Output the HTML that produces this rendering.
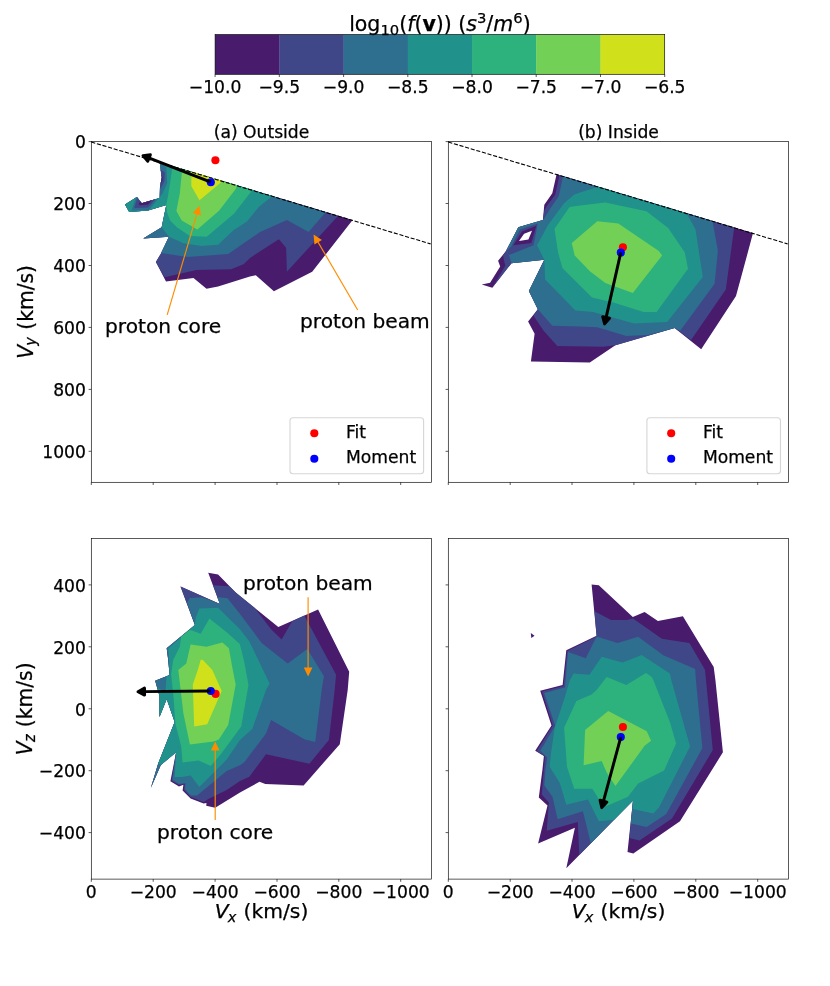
<!DOCTYPE html>
<html><head><meta charset="utf-8"><title>Velocity distribution figure</title>
<style>
html,body{margin:0;padding:0;background:#fff;}
svg{display:block;}
text{font-family:"DejaVu Sans","Liberation Sans",sans-serif;fill:#000;stroke:#000;stroke-width:0.25px;}
</style></head><body>
<svg width="830" height="986" viewBox="0 0 830 986">
<rect width="830" height="986" fill="#fff"/>
<g><polygon points="159.7,162.2 352.6,220.1 312.2,271.7 273.9,291.2 255.8,275.3 249.9,276.5 218.1,286.6 206.5,288.8 193.5,278.0 166.0,281.6 155.9,262.0 161.0,253.4 168.9,236.7 143.2,238.5 161.7,227.3 166.3,205.1 148.0,210.4 129.2,211.9 125.0,204.6 136.9,197.1 141.7,203.2 159.7,197.9 160.0,186.8 161.9,177.2" fill="#481b6d" />
<polygon points="159.7,162.2 338.2,215.8 286.9,271.7 286.1,247.8 278.9,239.2 250.0,257.9 243.6,264.2 231.1,269.3 196.4,270.0 164.6,277.2 155.9,262.0 161.0,253.4 168.9,236.7 143.2,238.5 161.7,227.3 166.3,205.1 148.0,210.4 129.2,211.9 125.0,204.6 136.9,197.1 141.7,203.2 159.7,197.9 160.0,186.8 161.9,177.2" fill="#3f4788" />
<polygon points="159.7,162.2 325.9,212.1 308.6,231.9 286.9,219.9 260.1,231.9 228.2,254.1 187.7,257.0 161.0,253.1 168.9,236.7 143.2,238.5 161.7,227.3 166.3,205.1 148.0,210.4 129.2,211.9 125.0,204.6 136.9,197.1 141.7,203.2 159.7,197.9 160.0,186.8 161.9,177.2" fill="#2e6e8e" />
<polygon points="159.7,162.2 272.4,196.0 258.8,207.1 247.0,221.6 233.5,230.2 218.1,244.7 201.7,246.1 183.4,243.3 168.9,236.7 161.7,227.3 166.3,205.1 148.0,210.4 129.2,211.9 125.0,204.6 136.9,197.1 141.7,203.2 159.7,197.9 160.0,186.8 161.9,177.2" fill="#21918c" />
<polygon points="172.5,166.1 252.3,190.0 250.8,191.9 234.2,213.6 206.7,236.7 189.9,236.0 176.9,227.3 170.1,220.5 167.2,212.8 166.3,205.1 167.7,197.4 170.1,183.0" fill="#2db27d" />
<polygon points="182.2,169.0 237.1,185.4 235.7,189.0 219.0,210.7 197.3,229.5 181.7,220.5 176.4,210.9 179.8,193.6" fill="#73d056" />
<polygon points="191.5,171.8 222.6,181.1 199.5,200.3 191.3,186.1" fill="#d0e11c" />
<polygon points="159.7,162.2 166.3,167.5 167.2,183.0 162.4,193.6 159.9,197.0 160.0,186.8 161.9,177.2" fill="#2e6e8e" />
<polygon points="160.3,169.5 164.8,172.3 164.5,181.0 160.6,189.0 160.0,186.8 161.9,177.2" fill="#3f4788" />
<polygon points="161.2,174.3 162.6,177.2 162.3,181.0 160.7,183.5 161.9,177.2" fill="#481b6d" />
<polygon points="135.9,197.7 131.5,210.6 148.9,209.9 158.6,198.3 141.7,203.2 136.9,197.1" fill="#2e6e8e" />
<polygon points="137.3,197.8 134.3,208.0 148.0,207.6 155.7,199.1 141.7,203.2" fill="#3f4788" />
<polygon points="138.6,204.3 140.2,201.5 141.7,203.2 151.8,200.3 148.0,204.6 140.7,205.3" fill="#481b6d" /></g>
<g><path d="M556.6,174.2 L753.0,233.1 L743.6,268.1 L736.0,296.0 L701.2,349.2 L674.6,328.0 L615.4,345.3 L589.8,362.4 L530.9,361.6 L534.6,333.7 L528.1,321.4 L537.8,309.2 L528.9,291.1 L544.3,259.8 L511.5,263.2 L492.3,287.8 L481.7,284.6 L490.1,282.8 L500.2,266.5 L498.1,260.8 L506.0,251.1 L518.3,227.2 L542.9,220.0 L544.3,204.8 L552.3,193.3 Z M519.0,241.0 L524.1,233.7 L532.0,230.8 L528.4,239.5 Z" fill="#481b6d" fill-rule="evenodd"/>
<polygon points="559.5,175.1 734.2,227.5 729.9,259.4 725.8,289.5 691.1,340.1 674.6,328.0 615.4,345.3 603.1,346.7 557.3,346.0 543.6,330.8 533.5,315.7 537.8,309.2 528.9,291.1 544.3,259.8 511.5,263.2 492.3,287.8 494.5,283.9 505.3,265.8 503.9,260.0 503.1,255.4 506.0,251.1 518.3,227.2 542.9,220.0 544.3,210.6 547.2,205.5 555.2,194.7" fill="#3f4788" />
<polygon points="563.1,176.2 712.5,221.0 717.9,250.7 714.6,283.7 680.2,330.7 674.6,328.0 648.0,335.0 626.3,335.9 597.3,327.2 580.0,326.5 552.3,325.8 537.8,309.2 528.9,291.1 544.3,259.8 511.5,263.2 509.0,255.0 506.0,251.1 518.3,227.2 542.9,220.0 543.6,219.3 550.8,207.7 558.8,196.1" fill="#2e6e8e" />
<polygon points="598.1,186.7 686.3,213.1 695.5,229.2 702.8,277.0 667.2,322.0 634.2,323.6 593.0,312.0 575.4,310.6 545.1,279.5 544.3,259.8 537.1,245.3 548.0,225.0 563.9,203.4 574.0,194.7 580.0,192.5" fill="#21918c" />
<polygon points="569.6,207.0 580.0,205.5 605.3,202.4 646.5,211.3 668.2,227.9 684.8,252.5 688.0,268.7 656.6,312.0 643.6,312.0 613.3,302.6 592.0,297.6 562.4,268.0 558.1,252.5 554.5,228.7" fill="#2db27d" />
<polygon points="597.3,221.2 618.3,223.6 658.8,251.1 662.1,255.4 632.8,293.0 605.3,283.1 589.9,271.3 574.7,255.4 571.8,243.1" fill="#73d056" />
<polygon points="511.1,246.7 519.8,229.4 537.8,223.6 533.5,245.3 509.0,255.0 506.0,251.1" fill="#3f4788" />
<polygon points="513.3,245.3 521.9,231.6 536.4,225.8 531.3,243.1" fill="#481b6d" />
<polygon points="519.0,241.0 524.1,233.7 532.0,230.8 528.4,239.5" fill="#fff" /></g>
<g><polygon points="208.2,572.7 218.1,574.5 235.7,592.5 240.0,596.0 254.5,607.8 278.3,627.0 318.1,609.6 349.2,671.8 347.7,690.0 339.8,744.2 303.6,785.4 265.3,784.0 259.5,781.8 240.0,792.6 215.2,807.7 206.2,805.8 206.5,803.0 203.6,803.6 190.6,798.6 182.6,790.6 183.4,784.8 179.0,786.6 170.4,781.2 176.1,752.3 160.8,765.0 150.8,788.1 158.2,763.6 174.7,722.0 166.7,698.9 159.5,717.0 159.5,696.0 155.2,680.8 169.6,675.1 168.2,659.8 166.7,648.2 194.9,625.1 180.5,586.5 219.9,604.1" fill="#481b6d" />
<polygon points="213.0,585.3 229.2,586.2 235.7,592.5 240.0,596.0 254.5,607.8 271.1,629.2 281.6,639.6 292.0,621.6 304.3,615.4 336.1,674.7 334.7,690.0 328.9,739.9 309.4,763.7 266.0,754.3 249.4,776.7 240.0,781.1 226.7,789.9 207.9,799.3 203.6,802.0 190.6,797.0 184.0,790.0 184.5,784.0 179.0,785.0 171.5,780.5 176.1,752.3 160.8,765.0 150.8,788.1 158.2,763.6 174.7,722.0 166.7,698.9 159.5,717.0 159.5,696.0 155.2,680.8 169.6,675.1 168.2,659.8 166.7,648.2 194.9,625.1 180.5,586.5 219.9,604.1" fill="#3f4788" />
<polygon points="217.2,596.9 227.5,598.3 240.0,614.0 261.7,642.9 287.7,663.6 307.2,649.1 323.9,676.1 321.7,690.0 315.2,742.0 304.3,739.2 271.1,720.1 266.0,733.4 244.3,762.3 240.0,765.2 226.7,771.1 206.5,787.7 197.0,795.5 190.6,795.5 185.0,789.0 185.5,783.0 179.0,784.0 172.5,780.0 176.1,752.3 160.8,765.0 150.8,788.1 158.2,763.6 174.7,722.0 166.7,698.9 159.5,717.0 159.5,696.0 155.2,680.8 169.6,675.1 168.2,659.8 166.7,648.2 194.9,625.1 187.0,602.6 189.9,597.9 202.2,597.3 219.9,604.1" fill="#2e6e8e" />
<polygon points="199.3,608.4 218.1,607.7 240.0,629.2 249.4,641.4 269.6,683.4 266.0,690.0 252.3,729.0 240.0,739.9 226.7,759.6 199.3,787.1 190.6,775.5 181.9,777.0 174.7,777.0 176.1,752.3 160.8,765.0 158.2,763.6 174.7,722.0 166.7,698.9 159.5,717.0 159.5,696.0 157.8,688.0 165.5,692.0 166.5,676.5 169.6,675.1 169.2,659.8 168.2,648.5 194.9,625.1 195.7,617.8" fill="#21918c" />
<polygon points="209.4,618.6 226.7,632.3 239.8,643.9 244.1,661.2 248.5,685.0 241.2,726.4 221.0,753.9 210.8,766.1 198.6,760.4 182.6,762.5 181.2,746.6 175.4,723.5 173.3,694.6 171.1,674.2 173.3,659.8 179.8,646.7 181.2,636.6 189.9,629.8 200.7,633.7" fill="#2db27d" />
<polygon points="190.6,644.6 206.5,646.7 222.4,642.4 228.9,648.2 232.5,668.4 235.7,684.5 228.2,724.9 218.8,739.4 213.7,741.6 189.9,744.5 183.4,713.4 178.3,670.0 186.3,663.4" fill="#73d056" />
<polygon points="200.7,659.8 202.9,660.0 212.3,670.0 221.7,691.0 207.2,724.2 194.2,726.4 192.8,684.5 197.8,670.0" fill="#d0e11c" /></g>
<g><polygon points="591.6,584.5 598.8,585.2 632.8,617.0 644.6,611.9 657.9,620.9 682.9,616.3 713.7,666.9 715.4,680.0 722.9,752.3 680.0,821.3 633.3,853.6 627.5,852.1 633.0,800.4 566.3,868.3 574.9,827.8 538.1,843.4 547.5,805.4 538.8,797.5 542.4,770.0 543.9,755.9 535.2,750.8 551.5,725.5 540.2,690.8 562.6,685.0 566.3,650.2 596.6,635.8" fill="#481b6d" />
<polygon points="530.8,632.9 534.5,635.8 531.3,638.0" fill="#481b6d" />
<polygon points="594.5,611.2 611.1,619.9 627.0,619.9 633.0,618.4 661.9,638.7 689.4,643.0 705.0,669.8 706.0,680.0 712.8,750.1 672.0,818.4 639.5,840.6 629.4,838.0 633.0,800.4 579.3,855.1 577.8,822.0 546.7,830.7 548.9,802.5 541.7,794.6 543.8,770.0 545.0,756.5 536.8,751.0 552.8,725.5 542.0,691.5 563.5,686.0 567.3,651.0 596.6,636.5" fill="#3f4788" />
<polygon points="596.6,636.5 617.6,643.0 638.1,636.8 663.4,655.3 695.2,669.0 695.9,680.0 702.4,747.9 666.3,814.1 646.7,827.1 630.8,823.5 633.0,800.4 590.8,843.2 582.9,811.2 557.6,819.2 552.5,796.7 544.3,785.5 545.4,770.3 547.2,757.5 540.3,750.8 555.2,725.8 544.2,693.0 565.0,687.4 568.0,652.0 585.8,658.2" fill="#2e6e8e" />
<polygon points="573.5,673.4 589.4,674.8 601.7,656.7 622.6,662.5 641.7,655.0 669.9,673.4 671.3,680.0 690.1,746.5 659.0,807.6 653.3,813.4 632.7,809.0 633.0,800.4 614.0,819.7 598.8,821.3 588.0,799.6 566.3,804.7 559.8,783.0 549.6,766.7 551.1,752.3 554.7,727.7 564.8,697.3 569.9,680.0" fill="#21918c" />
<polygon points="596.6,690.0 606.7,677.0 626.3,684.9 646.0,672.9 651.8,677.0 653.3,680.0 669.9,721.9 676.1,743.6 664.1,770.4 638.1,783.4 628.0,796.7 606.7,806.1 598.8,798.9 592.3,788.8 574.2,788.8 567.0,766.7 564.1,727.7 576.4,701.0 591.6,694.5" fill="#2db27d" />
<polygon points="608.2,711.1 646.7,731.3 651.1,740.7 644.6,745.8 615.4,786.0 606.7,772.5 601.7,761.0 583.6,765.3 585.1,729.9" fill="#73d056" /></g>
<line x1="91.3" y1="142.0" x2="430.6" y2="243.9" stroke="#000" stroke-width="1.1" stroke-dasharray="4.1 1.75"/>
<line x1="448.3" y1="142.0" x2="787.6" y2="243.9" stroke="#000" stroke-width="1.1" stroke-dasharray="4.1 1.75"/>
<line x1="167.2" y1="314.8" x2="197.1" y2="213.4" stroke="#ff8c00" stroke-width="1.15"/><polygon points="199.4,205.7 201.0,215.5 192.7,213.1" fill="#ff8c00" stroke="#ff8c00" stroke-width="0.00" stroke-linejoin="round"/>
<line x1="357.7" y1="310.0" x2="317.6" y2="241.4" stroke="#ff8c00" stroke-width="1.15"/><polygon points="313.6,234.5 321.9,240.1 314.4,244.4" fill="#ff8c00" stroke="#ff8c00" stroke-width="0.00" stroke-linejoin="round"/>
<line x1="308.1" y1="597.3" x2="308.1" y2="668.4" stroke="#ff8c00" stroke-width="1.15"/><polygon points="308.1,676.4 303.8,667.4 312.4,667.4" fill="#ff8c00" stroke="#ff8c00" stroke-width="0.00" stroke-linejoin="round"/>
<line x1="215.2" y1="820.0" x2="215.2" y2="749.6" stroke="#ff8c00" stroke-width="1.15"/><polygon points="215.2,741.6 219.5,750.6 210.9,750.6" fill="#ff8c00" stroke="#ff8c00" stroke-width="0.00" stroke-linejoin="round"/>
<circle cx="215.4" cy="160.2" r="4.05" fill="#f00"/>
<circle cx="210.8" cy="182.2" r="4.05" fill="#00f"/>
<line x1="210.8" y1="182.2" x2="148.2" y2="157.7" stroke="#000" stroke-width="2.95"/><polygon points="143.0,155.6 150.4,154.8 147.8,161.3" fill="#000" stroke="#000" stroke-width="2.95" stroke-linejoin="round"/>
<circle cx="622.9" cy="247.2" r="4.05" fill="#f00"/>
<circle cx="620.8" cy="252.5" r="4.05" fill="#00f"/>
<line x1="620.8" y1="252.5" x2="605.9" y2="318.4" stroke="#000" stroke-width="2.95"/><polygon points="604.6,323.9 602.7,316.7 609.5,318.2" fill="#000" stroke="#000" stroke-width="2.95" stroke-linejoin="round"/>
<circle cx="215.6" cy="693.9" r="4.05" fill="#f00"/>
<circle cx="210.8" cy="691.0" r="4.05" fill="#00f"/>
<line x1="210.8" y1="691.0" x2="143.6" y2="691.6" stroke="#000" stroke-width="2.95"/><polygon points="138.0,691.7 144.5,688.1 144.6,695.1" fill="#000" stroke="#000" stroke-width="2.95" stroke-linejoin="round"/>
<circle cx="622.9" cy="727.0" r="4.05" fill="#f00"/>
<circle cx="620.8" cy="737.1" r="4.05" fill="#00f"/>
<line x1="620.8" y1="737.1" x2="603.2" y2="802.2" stroke="#000" stroke-width="2.95"/><polygon points="601.8,807.6 600.1,800.3 606.9,802.1" fill="#000" stroke="#000" stroke-width="2.95" stroke-linejoin="round"/>
<rect x="91.3" y="141.6" width="340.3" height="340.7" fill="none" stroke="#000" stroke-width="0.65"/>
<line x1="91.3" y1="482.3" x2="91.3" y2="485.0" stroke="#000" stroke-width="0.65"/>
<line x1="153.2" y1="482.3" x2="153.2" y2="485.0" stroke="#000" stroke-width="0.65"/>
<line x1="215.1" y1="482.3" x2="215.1" y2="485.0" stroke="#000" stroke-width="0.65"/>
<line x1="277.0" y1="482.3" x2="277.0" y2="485.0" stroke="#000" stroke-width="0.65"/>
<line x1="338.8" y1="482.3" x2="338.8" y2="485.0" stroke="#000" stroke-width="0.65"/>
<line x1="400.7" y1="482.3" x2="400.7" y2="485.0" stroke="#000" stroke-width="0.65"/>
<line x1="88.6" y1="141.6" x2="91.3" y2="141.6" stroke="#000" stroke-width="0.65"/>
<text x="85.9" y="148.3" font-size="17.15" text-anchor="end" >0</text>
<line x1="88.6" y1="203.5" x2="91.3" y2="203.5" stroke="#000" stroke-width="0.65"/>
<text x="85.9" y="210.2" font-size="17.15" text-anchor="end" >200</text>
<line x1="88.6" y1="265.5" x2="91.3" y2="265.5" stroke="#000" stroke-width="0.65"/>
<text x="85.9" y="272.2" font-size="17.15" text-anchor="end" >400</text>
<line x1="88.6" y1="327.4" x2="91.3" y2="327.4" stroke="#000" stroke-width="0.65"/>
<text x="85.9" y="334.1" font-size="17.15" text-anchor="end" >600</text>
<line x1="88.6" y1="389.4" x2="91.3" y2="389.4" stroke="#000" stroke-width="0.65"/>
<text x="85.9" y="396.1" font-size="17.15" text-anchor="end" >800</text>
<line x1="88.6" y1="451.3" x2="91.3" y2="451.3" stroke="#000" stroke-width="0.65"/>
<text x="85.9" y="458.0" font-size="17.15" text-anchor="end" >1000</text>
<rect x="448.3" y="141.6" width="340.3" height="340.7" fill="none" stroke="#000" stroke-width="0.65"/>
<line x1="448.3" y1="482.3" x2="448.3" y2="485.0" stroke="#000" stroke-width="0.65"/>
<line x1="510.2" y1="482.3" x2="510.2" y2="485.0" stroke="#000" stroke-width="0.65"/>
<line x1="572.0" y1="482.3" x2="572.0" y2="485.0" stroke="#000" stroke-width="0.65"/>
<line x1="633.9" y1="482.3" x2="633.9" y2="485.0" stroke="#000" stroke-width="0.65"/>
<line x1="695.8" y1="482.3" x2="695.8" y2="485.0" stroke="#000" stroke-width="0.65"/>
<line x1="757.7" y1="482.3" x2="757.7" y2="485.0" stroke="#000" stroke-width="0.65"/>
<line x1="445.6" y1="141.6" x2="448.3" y2="141.6" stroke="#000" stroke-width="0.65"/>
<line x1="445.6" y1="203.5" x2="448.3" y2="203.5" stroke="#000" stroke-width="0.65"/>
<line x1="445.6" y1="265.5" x2="448.3" y2="265.5" stroke="#000" stroke-width="0.65"/>
<line x1="445.6" y1="327.4" x2="448.3" y2="327.4" stroke="#000" stroke-width="0.65"/>
<line x1="445.6" y1="389.4" x2="448.3" y2="389.4" stroke="#000" stroke-width="0.65"/>
<line x1="445.6" y1="451.3" x2="448.3" y2="451.3" stroke="#000" stroke-width="0.65"/>
<rect x="91.3" y="538.4" width="340.3" height="340.7" fill="none" stroke="#000" stroke-width="0.65"/>
<line x1="91.3" y1="879.1" x2="91.3" y2="881.8" stroke="#000" stroke-width="0.65"/>
<text x="91.3" y="897.6" font-size="17.15" text-anchor="middle" >0</text>
<line x1="153.2" y1="879.1" x2="153.2" y2="881.8" stroke="#000" stroke-width="0.65"/>
<text x="153.2" y="897.6" font-size="17.15" text-anchor="middle" >−200</text>
<line x1="215.1" y1="879.1" x2="215.1" y2="881.8" stroke="#000" stroke-width="0.65"/>
<text x="215.1" y="897.6" font-size="17.15" text-anchor="middle" >−400</text>
<line x1="277.0" y1="879.1" x2="277.0" y2="881.8" stroke="#000" stroke-width="0.65"/>
<text x="277.0" y="897.6" font-size="17.15" text-anchor="middle" >−600</text>
<line x1="338.8" y1="879.1" x2="338.8" y2="881.8" stroke="#000" stroke-width="0.65"/>
<text x="338.8" y="897.6" font-size="17.15" text-anchor="middle" >−800</text>
<line x1="400.7" y1="879.1" x2="400.7" y2="881.8" stroke="#000" stroke-width="0.65"/>
<text x="400.7" y="897.6" font-size="17.15" text-anchor="middle" >−1000</text>
<line x1="88.6" y1="584.9" x2="91.3" y2="584.9" stroke="#000" stroke-width="0.65"/>
<text x="85.9" y="591.6" font-size="17.15" text-anchor="end" >400</text>
<line x1="88.6" y1="646.8" x2="91.3" y2="646.8" stroke="#000" stroke-width="0.65"/>
<text x="85.9" y="653.5" font-size="17.15" text-anchor="end" >200</text>
<line x1="88.6" y1="708.8" x2="91.3" y2="708.8" stroke="#000" stroke-width="0.65"/>
<text x="85.9" y="715.5" font-size="17.15" text-anchor="end" >0</text>
<line x1="88.6" y1="770.7" x2="91.3" y2="770.7" stroke="#000" stroke-width="0.65"/>
<text x="85.9" y="777.4" font-size="17.15" text-anchor="end" >−200</text>
<line x1="88.6" y1="832.6" x2="91.3" y2="832.6" stroke="#000" stroke-width="0.65"/>
<text x="85.9" y="839.3" font-size="17.15" text-anchor="end" >−400</text>
<rect x="448.3" y="538.4" width="340.3" height="340.7" fill="none" stroke="#000" stroke-width="0.65"/>
<line x1="448.3" y1="879.1" x2="448.3" y2="881.8" stroke="#000" stroke-width="0.65"/>
<text x="448.3" y="897.6" font-size="17.15" text-anchor="middle" >0</text>
<line x1="510.2" y1="879.1" x2="510.2" y2="881.8" stroke="#000" stroke-width="0.65"/>
<text x="510.2" y="897.6" font-size="17.15" text-anchor="middle" >−200</text>
<line x1="572.0" y1="879.1" x2="572.0" y2="881.8" stroke="#000" stroke-width="0.65"/>
<text x="572.0" y="897.6" font-size="17.15" text-anchor="middle" >−400</text>
<line x1="633.9" y1="879.1" x2="633.9" y2="881.8" stroke="#000" stroke-width="0.65"/>
<text x="633.9" y="897.6" font-size="17.15" text-anchor="middle" >−600</text>
<line x1="695.8" y1="879.1" x2="695.8" y2="881.8" stroke="#000" stroke-width="0.65"/>
<text x="695.8" y="897.6" font-size="17.15" text-anchor="middle" >−800</text>
<line x1="757.7" y1="879.1" x2="757.7" y2="881.8" stroke="#000" stroke-width="0.65"/>
<text x="757.7" y="897.6" font-size="17.15" text-anchor="middle" >−1000</text>
<line x1="445.6" y1="584.9" x2="448.3" y2="584.9" stroke="#000" stroke-width="0.65"/>
<line x1="445.6" y1="646.8" x2="448.3" y2="646.8" stroke="#000" stroke-width="0.65"/>
<line x1="445.6" y1="708.8" x2="448.3" y2="708.8" stroke="#000" stroke-width="0.65"/>
<line x1="445.6" y1="770.7" x2="448.3" y2="770.7" stroke="#000" stroke-width="0.65"/>
<line x1="445.6" y1="832.6" x2="448.3" y2="832.6" stroke="#000" stroke-width="0.65"/>
<text x="261.5" y="137.6" font-size="17.15" text-anchor="middle" >(a) Outside</text>
<text x="618.5" y="137.6" font-size="17.15" text-anchor="middle" >(b) Inside</text>
<text x="261.5" y="918.0" font-size="20.30" text-anchor="middle" ><tspan font-style="italic">V</tspan><tspan font-style="italic" font-size="14.62" dy="3.8" dx="-0.8">x</tspan><tspan dy="-3.8" dx="0.8"> (km/s)</tspan></text>
<text x="618.5" y="918.0" font-size="20.30" text-anchor="middle" ><tspan font-style="italic">V</tspan><tspan font-style="italic" font-size="14.62" dy="3.8" dx="-0.8">x</tspan><tspan dy="-3.8" dx="0.8"> (km/s)</tspan></text>
<text transform="translate(32.8,311.9) rotate(-90) scale(1,1.04)" font-size="20.30" text-anchor="middle"><tspan font-style="italic">V</tspan><tspan font-style="italic" font-size="14.62" dy="3.0" dx="-0.8">y</tspan><tspan dy="-3.0" dx="0.8"> (km/s)</tspan></text>
<text transform="translate(31.7,708.8) rotate(-90) scale(1,1.05)" font-size="20.30" text-anchor="middle"><tspan font-style="italic">V</tspan><tspan font-style="italic" font-size="14.62" dy="3.0" dx="-0.8">z</tspan><tspan dy="-3.0" dx="0.8"> (km/s)</tspan></text>
<text x="105.0" y="333.4" font-size="20.20" text-anchor="start" >proton core</text>
<text x="300.0" y="328.0" font-size="20.20" text-anchor="start" >proton beam</text>
<text x="243.0" y="589.8" font-size="20.20" text-anchor="start" >proton beam</text>
<text x="157.0" y="838.5" font-size="20.20" text-anchor="start" >proton core</text>
<rect x="290.0" y="417.7" width="133.6" height="56.1" rx="3" ry="3" fill="#fff" fill-opacity="0.8" stroke="#ccc" stroke-opacity="0.8" stroke-width="1.1"/>
<circle cx="314.3" cy="433.3" r="4.05" fill="#f00"/>
<circle cx="314.3" cy="458.8" r="4.05" fill="#00f"/>
<text x="346.0" y="438.2" font-size="17.15" text-anchor="start" >Fit</text>
<text x="346.0" y="463.2" font-size="17.15" text-anchor="start" >Moment</text>
<rect x="646.9" y="417.7" width="133.6" height="56.1" rx="3" ry="3" fill="#fff" fill-opacity="0.8" stroke="#ccc" stroke-opacity="0.8" stroke-width="1.1"/>
<circle cx="671.2" cy="433.3" r="4.05" fill="#f00"/>
<circle cx="671.2" cy="458.8" r="4.05" fill="#00f"/>
<text x="702.9" y="438.2" font-size="17.15" text-anchor="start" >Fit</text>
<text x="702.9" y="463.2" font-size="17.15" text-anchor="start" >Moment</text>
<rect x="215.10" y="34.6" width="64.53" height="39.7" fill="#481b6d"/>
<rect x="279.33" y="34.6" width="64.53" height="39.7" fill="#3f4788"/>
<rect x="343.56" y="34.6" width="64.53" height="39.7" fill="#2e6e8e"/>
<rect x="407.79" y="34.6" width="64.53" height="39.7" fill="#21918c"/>
<rect x="472.01" y="34.6" width="64.53" height="39.7" fill="#2db27d"/>
<rect x="536.24" y="34.6" width="64.53" height="39.7" fill="#73d056"/>
<rect x="600.47" y="34.6" width="64.23" height="39.7" fill="#d0e11c"/>
<rect x="215.1" y="34.6" width="449.6" height="39.7" fill="none" stroke="#000" stroke-width="0.65"/>
<line x1="215.1" y1="74.3" x2="215.1" y2="77.0" stroke="#000" stroke-width="0.65"/>
<text x="215.1" y="92.9" font-size="17.15" text-anchor="middle" >−10.0</text>
<line x1="279.3" y1="74.3" x2="279.3" y2="77.0" stroke="#000" stroke-width="0.65"/>
<text x="279.3" y="92.9" font-size="17.15" text-anchor="middle" >−9.5</text>
<line x1="343.6" y1="74.3" x2="343.6" y2="77.0" stroke="#000" stroke-width="0.65"/>
<text x="343.6" y="92.9" font-size="17.15" text-anchor="middle" >−9.0</text>
<line x1="407.8" y1="74.3" x2="407.8" y2="77.0" stroke="#000" stroke-width="0.65"/>
<text x="407.8" y="92.9" font-size="17.15" text-anchor="middle" >−8.5</text>
<line x1="472.0" y1="74.3" x2="472.0" y2="77.0" stroke="#000" stroke-width="0.65"/>
<text x="472.0" y="92.9" font-size="17.15" text-anchor="middle" >−8.0</text>
<line x1="536.2" y1="74.3" x2="536.2" y2="77.0" stroke="#000" stroke-width="0.65"/>
<text x="536.2" y="92.9" font-size="17.15" text-anchor="middle" >−7.5</text>
<line x1="600.5" y1="74.3" x2="600.5" y2="77.0" stroke="#000" stroke-width="0.65"/>
<text x="600.5" y="92.9" font-size="17.15" text-anchor="middle" >−7.0</text>
<line x1="664.7" y1="74.3" x2="664.7" y2="77.0" stroke="#000" stroke-width="0.65"/>
<text x="664.7" y="92.9" font-size="17.15" text-anchor="middle" >−6.5</text>
<text x="439.9" y="30.8" font-size="20.50" text-anchor="middle" >log<tspan font-size="14.76" dy="4.0">10</tspan><tspan dy="-4.0">(</tspan><tspan font-style="italic">f</tspan>(<tspan font-weight="bold">v</tspan>)) (<tspan font-style="italic">s</tspan><tspan font-size="14.76" dy="-7.7">3</tspan><tspan dy="7.7">/</tspan><tspan font-style="italic">m</tspan><tspan font-size="14.76" dy="-7.7">6</tspan><tspan dy="7.7">)</tspan></text>
</svg>
</body></html>
